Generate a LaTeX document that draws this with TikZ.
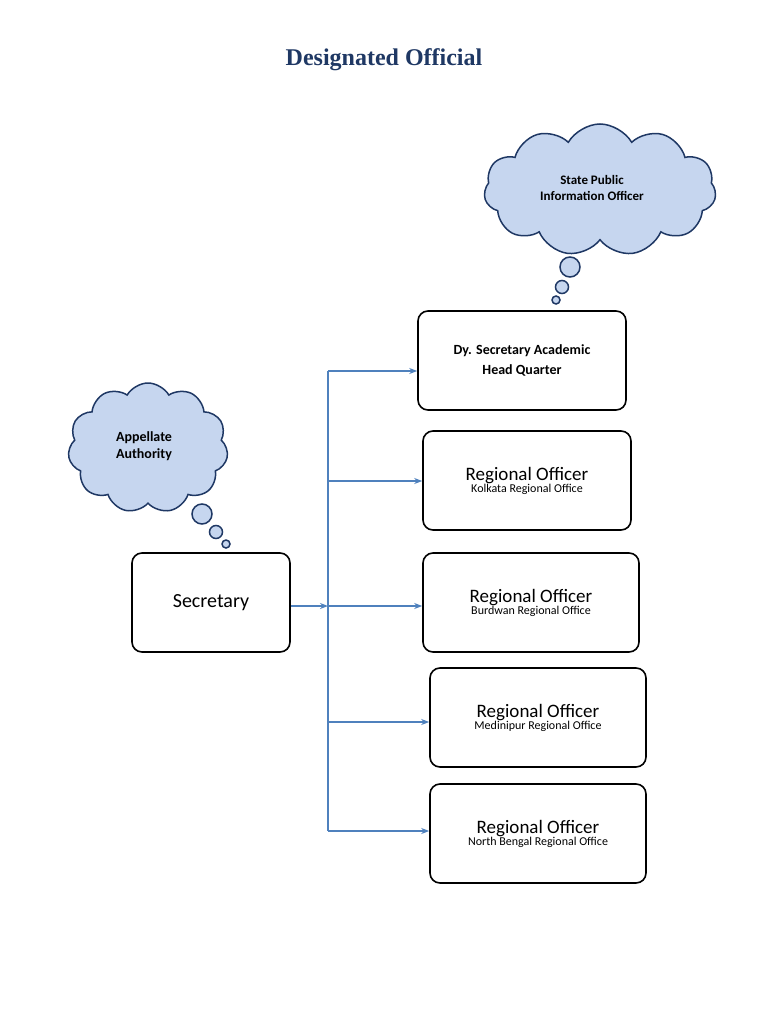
\documentclass[tikz,border=0pt]{standalone}
\usepackage{fontspec}
\setmainfont{Carlito}
\newfontfamily\titlefont{Liberation Serif}
\usetikzlibrary{shapes.symbols,arrows.meta}
\definecolor{navy}{HTML}{1F3864}
\definecolor{cloudfill}{HTML}{C6D6EF}
\definecolor{linkblue}{HTML}{4F81BD}
\tikzset{
 box/.style={draw=black,line width=1.6pt,rounded corners=10pt,fill=white,align=center,inner sep=0pt},
 thought/.style={cloud,cloud puffs=11,cloud puff arc=120,aspect=1.6,draw=navy,line width=1.5pt,fill=cloudfill,align=center,inner sep=0pt},
 bubble/.style={circle,draw=navy,line width=1.5pt,fill=cloudfill,inner sep=0pt},
 link/.style={draw=linkblue,line width=1.4pt},
 arr/.style={link,-{Stealth[length=8pt,width=6pt]}},
 big/.style={font=\fontsize{18}{21}\selectfont},
 small/.style={font=\fontsize{12}{14}\selectfont}
}
\begin{document}
\begin{tikzpicture}[x=1pt,y=-1pt]
\useasboundingbox[fill=white] (0,0) rectangle (768,1024);
\node (title) at (384,60) {\titlefont\bfseries\color{navy}\fontsize{24}{28}\selectfont Designated Official};

\node[thought,minimum width=232pt,minimum height=132pt] (spio) at (600,190) {};
\node[font=\bfseries\fontsize{13}{16}\selectfont,align=center] (spiot) at (592,188) {State Public\\Information Officer};
\node[bubble,minimum size=20pt] (b1) at (570,267) {};
\node[bubble,minimum size=13pt] (b2) at (562,287) {};
\node[bubble,minimum size=8pt] (b3) at (556,300) {};

\node[thought,minimum width=160pt,minimum height=130pt] (app) at (148,448) {};
\node[font=\bfseries\fontsize{14}{17}\selectfont,align=center] (appt) at (144,446) {Appellate\\Authority};
\node[bubble,minimum size=20pt] (a1) at (202,514) {};
\node[bubble,minimum size=13pt] (a2) at (216,532) {};
\node[bubble,minimum size=8pt] (a3) at (226,544) {};

\node[box,minimum width=158pt,minimum height=99pt,font=\fontsize{20}{24}\selectfont] (sec) at (211,602.5) {Secretary};
\node[box,minimum width=208pt,minimum height=99pt,font=\bfseries\fontsize{14}{20}\selectfont] (dy) at (522,360.5) {Dy. Secretary Academic\\Head Quarter};
\node[box,minimum width=208pt,minimum height=99pt] (r1) at (527,480.5) {{\fontsize{19}{23}\selectfont Regional Officer}\\{\fontsize{12}{15}\selectfont Kolkata Regional Office}};
\node[box,minimum width=216pt,minimum height=99pt] (r2) at (531,602.5) {{\fontsize{19}{23}\selectfont Regional Officer}\\{\fontsize{12}{15}\selectfont Burdwan Regional Office}};
\node[box,minimum width=216pt,minimum height=99pt] (r3) at (538,717.5) {{\fontsize{19}{23}\selectfont Regional Officer}\\{\fontsize{12}{15}\selectfont Medinipur Regional Office}};
\node[box,minimum width=216pt,minimum height=99pt] (r4) at (538,833.5) {{\fontsize{19}{23}\selectfont Regional Officer}\\{\fontsize{12}{15}\selectfont North Bengal Regional Office}};

\coordinate (top) at (328,371);
\coordinate (bot) at (328,831);
\coordinate (mid) at (328,606);
\draw[link] (top) -- (bot);
\draw[arr] (sec.east |- mid) -- (mid);
\draw[arr] (top) -- (dy.west |- top);
\draw[arr] (328,481) coordinate (j1) -- (r1.west |- j1);
\draw[arr] (mid) -- (r2.west |- mid);
\draw[arr] (328,722) coordinate (j3) -- (r3.west |- j3);
\draw[arr] (bot) -- (r4.west |- bot);
\end{tikzpicture}
\end{document}
